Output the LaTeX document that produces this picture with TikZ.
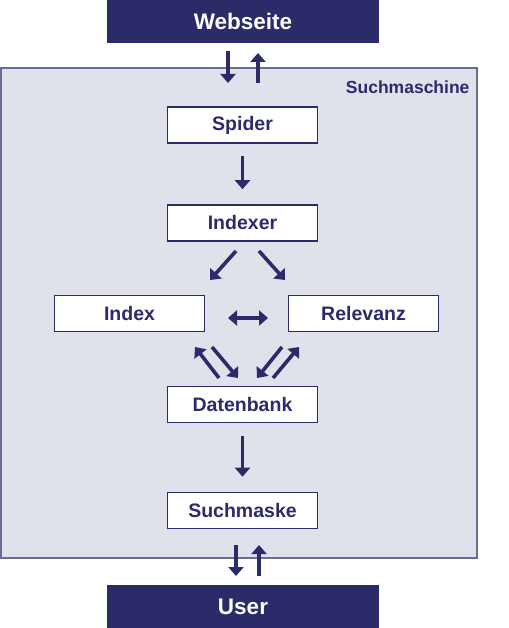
\documentclass[tikz,border=0pt]{standalone}
\usepackage{fontspec}
\setmainfont{Liberation Sans}
\usetikzlibrary{arrows.meta}
\definecolor{navy}{HTML}{2B2B6A}
\definecolor{paleblue}{HTML}{DFE1EB}
\tikzset{
  box/.style={draw=navy,line width=1.6pt,fill=white,minimum width=150pt,minimum height=36pt,inner sep=0pt,font=\bfseries\fontsize{19.5}{19.5}\selectfont,text=navy},
  bar/.style={fill=navy,minimum width=272pt,minimum height=43pt,inner sep=0pt,font=\bfseries\fontsize{22.5}{22.5}\selectfont,text=white},
  flow/.style={draw=navy,line width=3.6pt,-{Triangle[width=15pt,length=9pt]}},
  flowboth/.style={draw=navy,line width=3.6pt,{Triangle[width=15pt,length=9pt]}-{Triangle[width=15pt,length=9pt]}}
}
\begin{document}
\begin{tikzpicture}[x=1pt,y=-1pt]
\useasboundingbox (0,0) rectangle (508,628);
\filldraw[fill=paleblue,draw=navy!70,line width=1.4pt] (1,68) rectangle (477,558);
\node[anchor=east,font=\bfseries\fontsize{17.5}{17.5}\selectfont,text=navy] (engine) at (473,87) {Suchmaschine};
\node[bar] (web) at (243,21.5) {Webseite};
\node[bar] (user) at (243,606.5) {User};
\node[box] (spider) at (242.5,125) {Spider};
\node[box] (indexer) at (242.5,223) {Indexer};
\node[box] (index) at (129.5,313.5) {Index};
\node[box] (relevanz) at (363.5,313.5) {Relevanz};
\node[box] (datenbank) at (242.5,404.5) {Datenbank};
\node[box] (suchmaske) at (242.5,510.5) {Suchmaske};
% short arrow ends
\coordinate (webin1) at (228,51); \coordinate (webin2) at (228,83);
\coordinate (webout1) at (258,83); \coordinate (webout2) at (258,53);
\coordinate (ix1) at (236,251); \coordinate (ix2) at (210,280);
\coordinate (rv1) at (259,251); \coordinate (rv2) at (285,280);
\coordinate (mid1) at (228,318); \coordinate (mid2) at (268,318);
\coordinate (dbl1) at (219,378); \coordinate (dbl2) at (195,347);
\coordinate (dbl3) at (212,347); \coordinate (dbl4) at (238,378);
\coordinate (dbr1) at (282,347); \coordinate (dbr2) at (257,378);
\coordinate (dbr3) at (273,378); \coordinate (dbr4) at (299,347);
\coordinate (usr1) at (236,545); \coordinate (usr2) at (236,576);
\coordinate (usr3) at (259,576); \coordinate (usr4) at (259,545);
\draw[flow] (webin1) -- (webin2);
\draw[flow] (webout1) -- (webout2);
\draw[flow,shorten <=12pt,shorten >=15pt] (spider) -- (indexer);
\draw[flow] (ix1) -- (ix2);
\draw[flow] (rv1) -- (rv2);
\draw[flowboth] (mid1) -- (mid2);
\draw[flow] (dbl1) -- (dbl2);
\draw[flow] (dbl3) -- (dbl4);
\draw[flow] (dbr1) -- (dbr2);
\draw[flow] (dbr3) -- (dbr4);
\draw[flow,shorten <=13pt,shorten >=15pt] (datenbank) -- (suchmaske);
\draw[flow] (usr1) -- (usr2);
\draw[flow] (usr3) -- (usr4);
\end{tikzpicture}
\end{document}
